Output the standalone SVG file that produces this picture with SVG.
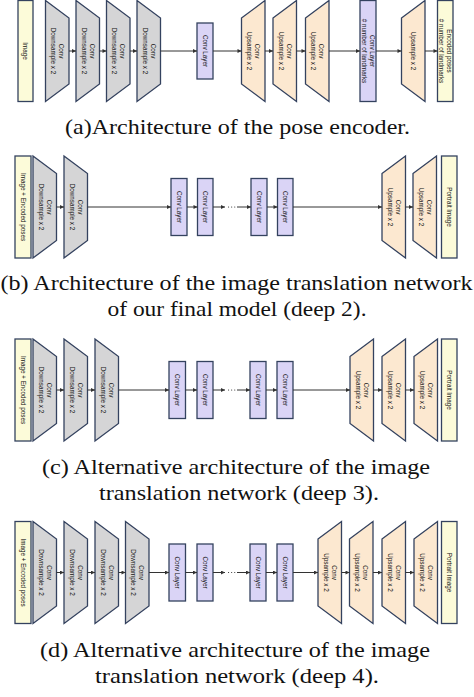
<svg xmlns="http://www.w3.org/2000/svg" width="474" height="697" viewBox="0 0 474 697">
<defs>
<marker id="ah" viewBox="0 0 10 10" refX="10" refY="5" markerWidth="4.5" markerHeight="4" markerUnits="userSpaceOnUse" orient="auto">
<path d="M0,0 L10,5 L0,10 z" fill="#333"/>
</marker>
<style>
.io{fill:#fcfbd9;stroke:#34425f;stroke-width:1.3}
.dn{fill:#d5d5d6;stroke:#34425f;stroke-width:1.3}
.up{fill:#fce8d0;stroke:#34425f;stroke-width:1.3}
.cv{fill:#dad4f6;stroke:#34425f;stroke-width:1.3}
.t{font-family:"Liberation Sans",Arial,sans-serif;font-size:6.3px;fill:#111;text-anchor:middle}
.cap{font-family:"Liberation Serif","Times New Roman",serif;font-size:21.5px;fill:#111;text-anchor:middle}
.e{stroke:#333;stroke-width:1;fill:none;marker-end:url(#ah)}
.dots{stroke:#333;stroke-width:1.1;fill:none;stroke-dasharray:0.1 3;stroke-linecap:round}
</style>
</defs>
<rect width="474" height="697" fill="#ffffff"/>

<!-- Panel (a) -->
<g id="a_img"><rect class="io" x="18" y="0.5" width="15" height="101"/><text class="t" transform="translate(25.5,51) rotate(90)" y="2.2">Image</text></g>
<g id="a_d1"><polygon class="dn" points="45.5,0.5 69,18 69,84 45.5,101.5"/><text class="t" transform="translate(57.25,51) rotate(90)"><tspan x="0" y="-1.8">Conv</tspan><tspan x="0" y="6.2">Downsample x 2</tspan></text></g>
<g id="a_d2"><polygon class="dn" points="76,0.5 99.5,18 99.5,84 76,101.5"/><text class="t" transform="translate(87.75,51) rotate(90)"><tspan x="0" y="-1.8">Conv</tspan><tspan x="0" y="6.2">Downsample x 2</tspan></text></g>
<g id="a_d3"><polygon class="dn" points="106.5,0.5 130,18 130,84 106.5,101.5"/><text class="t" transform="translate(118.25,51) rotate(90)"><tspan x="0" y="-1.8">Conv</tspan><tspan x="0" y="6.2">Downsample x 2</tspan></text></g>
<g id="a_d4"><polygon class="dn" points="137,0.5 160.5,18 160.5,84 137,101.5"/><text class="t" transform="translate(148.75,51) rotate(90)"><tspan x="0" y="-1.8">Conv</tspan><tspan x="0" y="6.2">Downsample x 2</tspan></text></g>
<g id="a_conv"><rect class="cv" x="197" y="23" width="16" height="56"/><text class="t" transform="translate(205,51) rotate(90)" y="2.2">Conv Layer</text></g>
<g id="a_u1"><polygon class="up" points="241.5,18 265,0.5 265,101.5 241.5,84"/><text class="t" transform="translate(253.25,51) rotate(90)"><tspan x="0" y="-1.8">Conv</tspan><tspan x="0" y="6.2">Upsample x 2</tspan></text></g>
<g id="a_u2"><polygon class="up" points="273,18 296.5,0.5 296.5,101.5 273,84"/><text class="t" transform="translate(284.75,51) rotate(90)"><tspan x="0" y="-1.8">Conv</tspan><tspan x="0" y="6.2">Upsample x 2</tspan></text></g>
<g id="a_u3"><polygon class="up" points="305.5,18 329,0.5 329,101.5 305.5,84"/><text class="t" transform="translate(317.25,51) rotate(90)"><tspan x="0" y="-1.8">Conv</tspan><tspan x="0" y="6.2">Upsample x 2</tspan></text></g>
<g id="a_conv2"><rect class="cv" x="360" y="0.5" width="16" height="101"/><text class="t" transform="translate(368,51) rotate(90)"><tspan x="0" y="-1.8">Conv Layer</tspan><tspan x="0" y="6.2"># number of landmarks</tspan></text></g>
<g id="a_u4"><polygon class="up" points="401.5,18 425,0.5 425,101.5 401.5,84"/><text class="t" transform="translate(413.25,51) rotate(90)" y="2.2">Upsample x 2</text></g>
<g id="a_out"><rect class="io" x="437.5" y="0.5" width="15.5" height="101"/><text class="t" transform="translate(445.25,51) rotate(90)"><tspan x="0" y="-1.8">Encoded poses</tspan><tspan x="0" y="6.2"># number of landmarks</tspan></text></g>

<!-- Panel (b) -->
<g id="b_in"><rect class="io" x="15" y="156" width="16" height="102"/><text class="t" transform="translate(23,207) rotate(90)" y="2.2">Image + Encoded poses</text></g>
<g id="b_d1"><polygon class="dn" points="33,156 56.5,173.5 56.5,240.5 33,258"/><text class="t" transform="translate(44.75,207) rotate(90)"><tspan x="0" y="-1.8">Conv</tspan><tspan x="0" y="6.2">Downsample x 2</tspan></text></g>
<g id="b_d2"><polygon class="dn" points="64,156 87.5,173.5 87.5,240.5 64,258"/><text class="t" transform="translate(75.75,207) rotate(90)"><tspan x="0" y="-1.8">Conv</tspan><tspan x="0" y="6.2">Downsample x 2</tspan></text></g>
<g id="b_c1"><rect class="cv" x="171" y="178.5" width="16" height="57"/><text class="t" transform="translate(179,207) rotate(90)" y="2.2">Conv Layer</text></g>
<g id="b_c2"><rect class="cv" x="197.5" y="178.5" width="15.5" height="57"/><text class="t" transform="translate(205.25,207) rotate(90)" y="2.2">Conv Layer</text></g>
<g id="b_c3"><rect class="cv" x="251" y="178.5" width="16" height="57"/><text class="t" transform="translate(259,207) rotate(90)" y="2.2">Conv Layer</text></g>
<g id="b_c4"><rect class="cv" x="277.5" y="178.5" width="15.5" height="57"/><text class="t" transform="translate(285.25,207) rotate(90)" y="2.2">Conv Layer</text></g>
<g id="b_u1"><polygon class="up" points="382,173.5 405.5,156 405.5,258 382,240.5"/><text class="t" transform="translate(393.75,207) rotate(90)"><tspan x="0" y="-1.8">Conv</tspan><tspan x="0" y="6.2">Upsample x 2</tspan></text></g>
<g id="b_u2"><polygon class="up" points="413,173.5 436.5,156 436.5,258 413,240.5"/><text class="t" transform="translate(424.75,207) rotate(90)"><tspan x="0" y="-1.8">Conv</tspan><tspan x="0" y="6.2">Upsample x 2</tspan></text></g>
<g id="b_out"><rect class="io" x="441.5" y="156" width="15.5" height="102"/><text class="t" transform="translate(449.25,207) rotate(90)" y="2.2">Portrait Image</text></g>

<!-- Panel (c) -->
<g id="c_in"><rect class="io" x="15" y="339" width="16" height="102"/><text class="t" transform="translate(23,390) rotate(90)" y="2.2">Image + Encoded poses</text></g>
<g id="c_d1"><polygon class="dn" points="33,339 56.5,356.5 56.5,423.5 33,441"/><text class="t" transform="translate(44.75,390) rotate(90)"><tspan x="0" y="-1.8">Conv</tspan><tspan x="0" y="6.2">Downsample x 2</tspan></text></g>
<g id="c_d2"><polygon class="dn" points="64,339 87.5,356.5 87.5,423.5 64,441"/><text class="t" transform="translate(75.75,390) rotate(90)"><tspan x="0" y="-1.8">Conv</tspan><tspan x="0" y="6.2">Downsample x 2</tspan></text></g>
<g id="c_d3"><polygon class="dn" points="95,339 118.5,356.5 118.5,423.5 95,441"/><text class="t" transform="translate(106.75,390) rotate(90)"><tspan x="0" y="-1.8">Conv</tspan><tspan x="0" y="6.2">Downsample x 2</tspan></text></g>
<g id="c_c1"><rect class="cv" x="169" y="361.5" width="16.5" height="57"/><text class="t" transform="translate(177.25,390) rotate(90)" y="2.2">Conv Layer</text></g>
<g id="c_c2"><rect class="cv" x="197" y="361.5" width="16" height="57"/><text class="t" transform="translate(205,390) rotate(90)" y="2.2">Conv Layer</text></g>
<g id="c_c3"><rect class="cv" x="250" y="361.5" width="16" height="57"/><text class="t" transform="translate(258,390) rotate(90)" y="2.2">Conv Layer</text></g>
<g id="c_c4"><rect class="cv" x="277" y="361.5" width="16" height="57"/><text class="t" transform="translate(285,390) rotate(90)" y="2.2">Conv Layer</text></g>
<g id="c_u1"><polygon class="up" points="350,356.5 373.5,339 373.5,441 350,423.5"/><text class="t" transform="translate(361.75,390) rotate(90)"><tspan x="0" y="-1.8">Conv</tspan><tspan x="0" y="6.2">Upsample x 2</tspan></text></g>
<g id="c_u2"><polygon class="up" points="382,356.5 405.5,339 405.5,441 382,423.5"/><text class="t" transform="translate(393.75,390) rotate(90)"><tspan x="0" y="-1.8">Conv</tspan><tspan x="0" y="6.2">Upsample x 2</tspan></text></g>
<g id="c_u3"><polygon class="up" points="414,356.5 437.5,339 437.5,441 414,423.5"/><text class="t" transform="translate(425.75,390) rotate(90)"><tspan x="0" y="-1.8">Conv</tspan><tspan x="0" y="6.2">Upsample x 2</tspan></text></g>
<g id="c_out"><rect class="io" x="441.5" y="339" width="15.5" height="102"/><text class="t" transform="translate(449.25,390) rotate(90)" y="2.2">Portrait Image</text></g>

<!-- Panel (d) -->
<g id="d_in"><rect class="io" x="15" y="521.5" width="16" height="102"/><text class="t" transform="translate(23,572.5) rotate(90)" y="2.2">Image + Encoded poses</text></g>
<g id="d_d1"><polygon class="dn" points="33,521.5 56.5,539 56.5,606 33,623.5"/><text class="t" transform="translate(44.75,572.5) rotate(90)"><tspan x="0" y="-1.8">Conv</tspan><tspan x="0" y="6.2">Downsample x 2</tspan></text></g>
<g id="d_d2"><polygon class="dn" points="64,521.5 87.5,539 87.5,606 64,623.5"/><text class="t" transform="translate(75.75,572.5) rotate(90)"><tspan x="0" y="-1.8">Conv</tspan><tspan x="0" y="6.2">Downsample x 2</tspan></text></g>
<g id="d_d3"><polygon class="dn" points="95,521.5 118.5,539 118.5,606 95,623.5"/><text class="t" transform="translate(106.75,572.5) rotate(90)"><tspan x="0" y="-1.8">Conv</tspan><tspan x="0" y="6.2">Downsample x 2</tspan></text></g>
<g id="d_d4"><polygon class="dn" points="125.5,521.5 149,539 149,606 125.5,623.5"/><text class="t" transform="translate(137.25,572.5) rotate(90)"><tspan x="0" y="-1.8">Conv</tspan><tspan x="0" y="6.2">Downsample x 2</tspan></text></g>
<g id="d_c1"><rect class="cv" x="169" y="544" width="16.5" height="57"/><text class="t" transform="translate(177.25,572.5) rotate(90)" y="2.2">Conv Layer</text></g>
<g id="d_c2"><rect class="cv" x="197" y="544" width="16" height="57"/><text class="t" transform="translate(205,572.5) rotate(90)" y="2.2">Conv Layer</text></g>
<g id="d_c3"><rect class="cv" x="250" y="544" width="16" height="57"/><text class="t" transform="translate(258,572.5) rotate(90)" y="2.2">Conv Layer</text></g>
<g id="d_c4"><rect class="cv" x="277" y="544" width="16" height="57"/><text class="t" transform="translate(285,572.5) rotate(90)" y="2.2">Conv Layer</text></g>
<g id="d_u1"><polygon class="up" points="318,539 341.5,521.5 341.5,623.5 318,606"/><text class="t" transform="translate(329.75,572.5) rotate(90)"><tspan x="0" y="-1.8">Conv</tspan><tspan x="0" y="6.2">Upsample x 2</tspan></text></g>
<g id="d_u2"><polygon class="up" points="349.5,539 373,521.5 373,623.5 349.5,606"/><text class="t" transform="translate(361.25,572.5) rotate(90)"><tspan x="0" y="-1.8">Conv</tspan><tspan x="0" y="6.2">Upsample x 2</tspan></text></g>
<g id="d_u3"><polygon class="up" points="382,539 405.5,521.5 405.5,623.5 382,606"/><text class="t" transform="translate(393.75,572.5) rotate(90)"><tspan x="0" y="-1.8">Conv</tspan><tspan x="0" y="6.2">Upsample x 2</tspan></text></g>
<g id="d_u4"><polygon class="up" points="414,539 437.5,521.5 437.5,623.5 414,606"/><text class="t" transform="translate(425.75,572.5) rotate(90)"><tspan x="0" y="-1.8">Conv</tspan><tspan x="0" y="6.2">Upsample x 2</tspan></text></g>
<g id="d_out"><rect class="io" x="441.5" y="521.5" width="15.5" height="102"/><text class="t" transform="translate(449.25,572.5) rotate(90)" y="2.2">Portrait Image</text></g>

<!-- Connectors -->
<g id="connectors">
<path class="e" d="M69,51H76"/><path class="e" d="M99.5,51H106.5"/><path class="e" d="M130,51H137"/>
<path class="e" d="M160.5,51H197"/><path class="e" d="M213,51H241.5"/><path class="e" d="M265,51H273"/>
<path class="e" d="M296.5,51H305.5"/><path class="e" d="M329,51H360"/><path class="e" d="M376,51H401.5"/>
<path class="e" d="M425,51H437.5"/>

<path class="e" d="M56.5,207H64"/><path class="e" d="M87.5,207H171"/><path class="e" d="M187,207H197.5"/>
<path class="e" d="M213,207H225"/><path class="dots" d="M228.5,207H235"/><path class="e" d="M237,207H251"/>
<path class="e" d="M267,207H277.5"/><path class="e" d="M293,207H382"/><path class="e" d="M405.5,207H413"/>

<path class="e" d="M56.5,390H64"/><path class="e" d="M87.5,390H95"/><path class="e" d="M118.5,390H169"/>
<path class="e" d="M185.5,390H197"/><path class="e" d="M213,390H225"/><path class="dots" d="M228.5,390H235"/>
<path class="e" d="M237,390H250"/><path class="e" d="M266,390H277"/><path class="e" d="M293,390H350"/>
<path class="e" d="M373.5,390H382"/><path class="e" d="M405.5,390H414"/>

<path class="e" d="M56.5,572.5H64"/><path class="e" d="M87.5,572.5H95"/><path class="e" d="M118.5,572.5H125.5"/>
<path class="e" d="M149,572.5H169"/><path class="e" d="M185.5,572.5H197"/><path class="e" d="M213,572.5H225"/>
<path class="dots" d="M228.5,572.5H235"/><path class="e" d="M237,572.5H250"/><path class="e" d="M266,572.5H277"/>
<path class="e" d="M293,572.5H318"/><path class="e" d="M341.5,572.5H349.5"/><path class="e" d="M373,572.5H382"/>
<path class="e" d="M405.5,572.5H414"/>
</g>

<!-- Captions -->
<g id="captions">
<text class="cap" x="237.5" y="134" textLength="345" lengthAdjust="spacingAndGlyphs">(a)Architecture of the pose encoder.</text>
<text class="cap" x="236.5" y="290" textLength="472" lengthAdjust="spacingAndGlyphs">(b) Architecture of the image translation network</text>
<text class="cap" x="237" y="316" textLength="259" lengthAdjust="spacingAndGlyphs">of our final model (deep 2).</text>
<text class="cap" x="236" y="474" textLength="388" lengthAdjust="spacingAndGlyphs">(c) Alternative architecture of the image</text>
<text class="cap" x="239" y="500" textLength="280" lengthAdjust="spacingAndGlyphs">translation network (deep 3).</text>
<text class="cap" x="235" y="657" textLength="390" lengthAdjust="spacingAndGlyphs">(d) Alternative architecture of the image</text>
<text class="cap" x="237" y="683" textLength="284" lengthAdjust="spacingAndGlyphs">translation network (deep 4).</text>
</g>
</svg>
